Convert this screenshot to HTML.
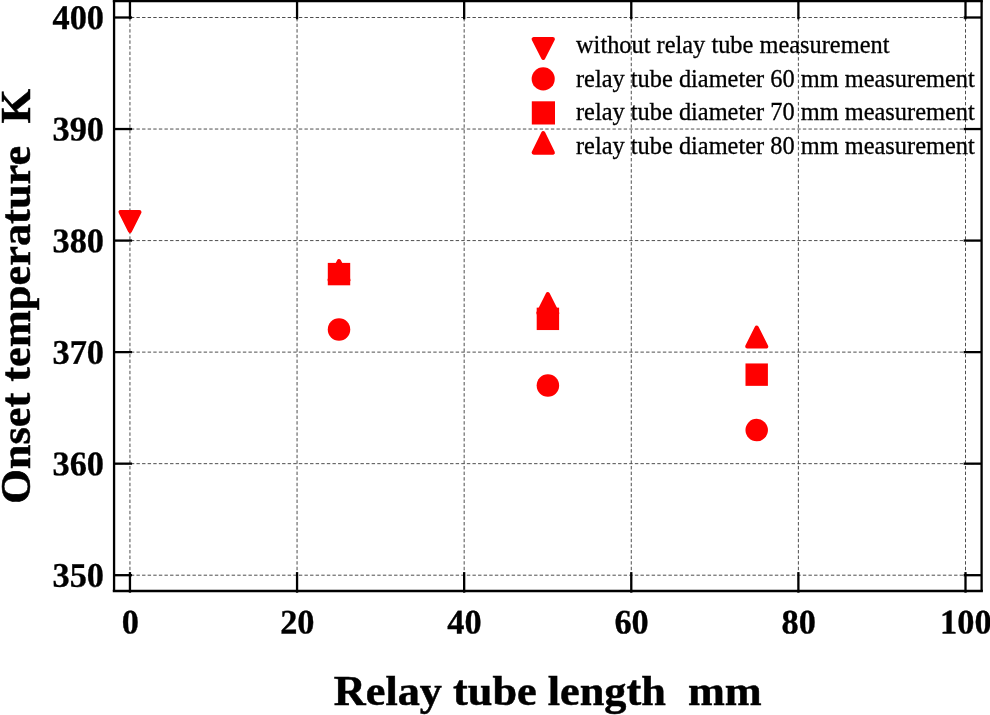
<!DOCTYPE html>
<html><head><meta charset="utf-8"><title>Onset temperature vs relay tube length</title>
<style>
html,body{margin:0;padding:0;background:#fff;}
body{width:990px;height:715px;overflow:hidden;}
svg{display:block;}
text{font-family:"Liberation Serif","Times New Roman",serif;fill:#000;white-space:pre;}
.tick{font-weight:bold;font-size:34.5px;stroke:#000;stroke-width:0.35px;}
.title{font-weight:bold;font-size:41.6px;stroke:#000;stroke-width:0.5px;}
.leg{font-size:24.2px;stroke:#000;stroke-width:0.3px;}
.grid line{stroke:#444;stroke-width:0.95;stroke-dasharray:3.4 2.2;}
.ax line{stroke:#000;stroke-width:2.3;}
.m{fill:#ff0000;stroke:#ff0000;stroke-width:4.2;stroke-linejoin:round;}
.m0{fill:#ff0000;}
</style></head><body>
<svg width="990" height="715" viewBox="0 0 990 715">
<rect width="990" height="715" fill="#fff"/>

<g class="grid">
<line x1="129.95" y1="1.2" x2="129.95" y2="591.0"/>
<line x1="297.06" y1="1.2" x2="297.06" y2="591.0"/>
<line x1="464.17" y1="1.2" x2="464.17" y2="591.0"/>
<line x1="631.28" y1="1.2" x2="631.28" y2="591.0"/>
<line x1="798.39" y1="1.2" x2="798.39" y2="591.0"/>
<line x1="965.50" y1="1.2" x2="965.50" y2="591.0"/>
<line x1="114.07" y1="575.20" x2="981.6" y2="575.20"/>
<line x1="114.07" y1="463.66" x2="981.6" y2="463.66"/>
<line x1="114.07" y1="352.12" x2="981.6" y2="352.12"/>
<line x1="114.07" y1="240.58" x2="981.6" y2="240.58"/>
<line x1="114.07" y1="129.04" x2="981.6" y2="129.04"/>
<line x1="114.07" y1="17.50" x2="981.6" y2="17.50"/>
</g>
<g class="ax">
<line x1="112.77" y1="1.2" x2="982.9" y2="1.2"/>
<line x1="112.77" y1="591.0" x2="982.9" y2="591.0"/>
<line x1="114.07" y1="1.2" x2="114.07" y2="591.0"/>
<line x1="981.6" y1="1.2" x2="981.6" y2="591.0"/>
<line x1="129.95" y1="1.2" x2="129.95" y2="19.299999999999997"/>
<line x1="129.95" y1="592.7" x2="129.95" y2="572.1"/>
<line x1="297.06" y1="1.2" x2="297.06" y2="19.299999999999997"/>
<line x1="297.06" y1="592.7" x2="297.06" y2="572.1"/>
<line x1="464.17" y1="1.2" x2="464.17" y2="19.299999999999997"/>
<line x1="464.17" y1="592.7" x2="464.17" y2="572.1"/>
<line x1="631.28" y1="1.2" x2="631.28" y2="19.299999999999997"/>
<line x1="631.28" y1="592.7" x2="631.28" y2="572.1"/>
<line x1="798.39" y1="1.2" x2="798.39" y2="19.299999999999997"/>
<line x1="798.39" y1="592.7" x2="798.39" y2="572.1"/>
<line x1="965.50" y1="1.2" x2="965.50" y2="19.299999999999997"/>
<line x1="965.50" y1="592.7" x2="965.50" y2="572.1"/>
<line x1="114.07" y1="575.20" x2="132.07" y2="575.20"/>
<line x1="981.6" y1="575.20" x2="963.6" y2="575.20"/>
<line x1="114.07" y1="463.66" x2="132.07" y2="463.66"/>
<line x1="981.6" y1="463.66" x2="963.6" y2="463.66"/>
<line x1="114.07" y1="352.12" x2="132.07" y2="352.12"/>
<line x1="981.6" y1="352.12" x2="963.6" y2="352.12"/>
<line x1="114.07" y1="240.58" x2="132.07" y2="240.58"/>
<line x1="981.6" y1="240.58" x2="963.6" y2="240.58"/>
<line x1="114.07" y1="129.04" x2="132.07" y2="129.04"/>
<line x1="981.6" y1="129.04" x2="963.6" y2="129.04"/>
<line x1="114.07" y1="17.50" x2="132.07" y2="17.50"/>
<line x1="981.6" y1="17.50" x2="963.6" y2="17.50"/>
</g>
<text class="tick" transform="translate(130.25,633.50) rotate(0.03) scale(0.995,1)" text-anchor="middle" xml:space="preserve">0</text>
<text class="tick" transform="translate(297.36,633.50) rotate(0.03) scale(0.995,1)" text-anchor="middle" xml:space="preserve">20</text>
<text class="tick" transform="translate(464.47,633.50) rotate(0.03) scale(0.995,1)" text-anchor="middle" xml:space="preserve">40</text>
<text class="tick" transform="translate(631.58,633.50) rotate(0.03) scale(0.995,1)" text-anchor="middle" xml:space="preserve">60</text>
<text class="tick" transform="translate(798.69,633.50) rotate(0.03) scale(0.995,1)" text-anchor="middle" xml:space="preserve">80</text>
<text class="tick" transform="translate(965.80,633.50) rotate(0.03) scale(0.995,1)" text-anchor="middle" xml:space="preserve">100</text>
<text class="tick" transform="translate(104.00,586.80) rotate(0.03) scale(0.995,1)" text-anchor="end" xml:space="preserve">350</text>
<text class="tick" transform="translate(104.00,475.26) rotate(0.03) scale(0.995,1)" text-anchor="end" xml:space="preserve">360</text>
<text class="tick" transform="translate(104.00,363.72) rotate(0.03) scale(0.995,1)" text-anchor="end" xml:space="preserve">370</text>
<text class="tick" transform="translate(104.00,252.18) rotate(0.03) scale(0.995,1)" text-anchor="end" xml:space="preserve">380</text>
<text class="tick" transform="translate(104.00,140.64) rotate(0.03) scale(0.995,1)" text-anchor="end" xml:space="preserve">390</text>
<text class="tick" transform="translate(104.00,29.10) rotate(0.03) scale(0.995,1)" text-anchor="end" xml:space="preserve">400</text>
<text class="title" transform="translate(333.80,705.10) scale(1.0645,1)" text-anchor="start" xml:space="preserve">Relay tube length  mm</text>
<text class="title" transform="translate(29.60,503.80) rotate(-90) scale(1.068,1)" text-anchor="start" xml:space="preserve">Onset temperature  K</text>
<g>
<path class="m" d="M120.60 212.00 L139.40 212.00 L130.00 230.80 Z"/>
<path class="m" d="M339.00 261.20 L348.40 280.00 L329.60 280.00 Z"/>
<path class="m" d="M547.80 294.20 L557.20 313.00 L538.40 313.00 Z"/>
<path class="m" d="M756.70 327.70 L766.10 346.50 L747.30 346.50 Z"/>
<circle class="m0" cx="339.00" cy="329.50" r="11.25"/>
<circle class="m0" cx="547.90" cy="385.45" r="11.25"/>
<circle class="m0" cx="756.70" cy="430.10" r="11.25"/>
<rect class="m0" x="327.80" y="262.90" width="22.4" height="22.4"/>
<rect class="m0" x="536.70" y="307.65" width="22.4" height="22.4"/>
<rect class="m0" x="745.50" y="363.45" width="22.4" height="22.4"/>
</g>
<g>
<path class="m" d="M533.70 39.00 L552.80 39.00 L543.25 57.90 Z"/>
<circle class="m0" cx="543.20" cy="78.90" r="11.55"/>
<rect class="m0" x="531.80" y="101.30" width="23.2" height="23.2"/>
<path class="m" d="M543.25 133.20 L552.80 152.60 L533.70 152.60 Z"/>
<text class="leg" transform="translate(576.00,52.85) scale(1.008,1)" text-anchor="start" xml:space="preserve">without relay tube measurement</text>
<text class="leg" transform="translate(576.00,86.55) scale(1.008,1)" text-anchor="start" xml:space="preserve">relay tube diameter 60 mm measurement</text>
<text class="leg" transform="translate(576.00,120.25) scale(1.008,1)" text-anchor="start" xml:space="preserve">relay tube diameter 70 mm measurement</text>
<text class="leg" transform="translate(576.00,153.95) scale(1.008,1)" text-anchor="start" xml:space="preserve">relay tube diameter 80 mm measurement</text>
</g>
</svg></body></html>
